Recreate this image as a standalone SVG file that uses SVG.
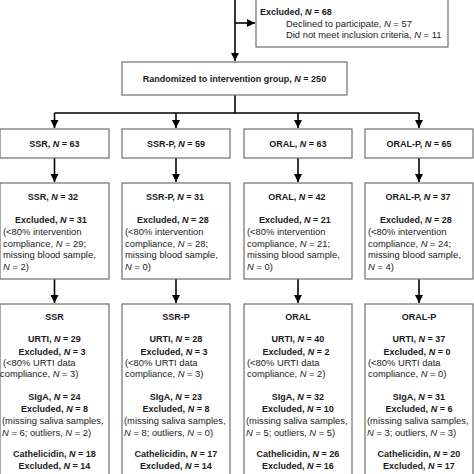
<svg xmlns="http://www.w3.org/2000/svg" width="474" height="474" viewBox="0 0 474 474">
<style>
text{font-family:"Liberation Sans",Arial,sans-serif;font-size:9.4px;fill:#1a1a1a}
.b{font-weight:bold;font-size:9px}
.c{text-anchor:middle}
.i{font-style:italic}
.box{fill:#fff;stroke:#6e6e6e;stroke-width:1.2}
.ln{fill:none;stroke:#000;stroke-width:1.6}
</style>
<defs>
<marker id="ah" viewBox="0 0 10 10" refX="10" refY="5" markerWidth="5.2" markerHeight="5.2" orient="auto" markerUnits="strokeWidth">
<path d="M0,0 L10,5 L0,10 z" fill="#000"/>
</marker>
</defs>
<rect width="474" height="474" fill="#fff"/>
<g id="connectors">
<path class="ln" d="M235,0 V61" marker-end="url(#ah)"/>
<path class="ln" d="M235,23 H255" marker-end="url(#ah)"/>
<path class="ln" d="M235,95 V113 M54.5,113 H419"/>
<path class="ln" d="M54.5,113 V128" marker-end="url(#ah)"/>
<path class="ln" d="M176,113 V128" marker-end="url(#ah)"/>
<path class="ln" d="M298,113 V128" marker-end="url(#ah)"/>
<path class="ln" d="M419,113 V128" marker-end="url(#ah)"/>
<path class="ln" d="M54.5,158 V182" marker-end="url(#ah)"/>
<path class="ln" d="M176,158 V182" marker-end="url(#ah)"/>
<path class="ln" d="M298,158 V182" marker-end="url(#ah)"/>
<path class="ln" d="M419,158 V182" marker-end="url(#ah)"/>
<path class="ln" d="M54.5,279 V303" marker-end="url(#ah)"/>
<path class="ln" d="M176,279 V303" marker-end="url(#ah)"/>
<path class="ln" d="M298,279 V303" marker-end="url(#ah)"/>
<path class="ln" d="M419,279 V303" marker-end="url(#ah)"/>
</g>
<g id="excluded">
<rect class="box" x="256" y="-5" width="192" height="52"/>
<text class="b" x="260" y="15">Excluded, <tspan class="i">N</tspan> = 68</text>
<text x="286" y="27">Declined to participate, <tspan class="i">N</tspan> = 57</text>
<text x="286" y="38">Did not meet inclusion criteria, <tspan class="i">N</tspan> = 11</text>
</g>
<g id="randomized">
<rect class="box" x="122" y="62" width="225" height="33"/>
<text class="b c" x="234.5" y="82">Randomized to intervention group, <tspan class="i">N</tspan> = 250</text>
</g>
<g id="ssr1"><rect class="box" x="0" y="129" width="109" height="29"/><text class="b c" x="54.5" y="147">SSR, <tspan class="i">N</tspan> = 63</text></g>
<g id="ssrp1"><rect class="box" x="122" y="129" width="108" height="29"/><text class="b c" x="176" y="147">SSR-P, <tspan class="i">N</tspan> = 59</text></g>
<g id="oral1"><rect class="box" x="244" y="129" width="108" height="29"/><text class="b c" x="298" y="147">ORAL, <tspan class="i">N</tspan> = 63</text></g>
<g id="oralp1"><rect class="box" x="365" y="129" width="108" height="29"/><text class="b c" x="419" y="147">ORAL-P, <tspan class="i">N</tspan> = 65</text></g>

<g id="ssr2"><rect class="box" x="0" y="183" width="109" height="96"/>
<text class="b c" x="53" y="200">SSR, <tspan class="i">N</tspan> = 32</text>
<text class="b c" x="51" y="223">Excluded, <tspan class="i">N</tspan> = 31</text>
<text x="3" y="235">(&lt;80% intervention</text>
<text x="3" y="247">compliance, <tspan class="i">N</tspan> = 29;</text>
<text x="3" y="258">missing blood sample,</text>
<text x="3" y="270"><tspan class="i">N</tspan> = 2)</text></g>
<g id="ssrp2"><rect class="box" x="122" y="183" width="108" height="96"/>
<text class="b c" x="175" y="200">SSR-P, <tspan class="i">N</tspan> = 31</text>
<text class="b c" x="173" y="223">Excluded, <tspan class="i">N</tspan> = 28</text>
<text x="125" y="235">(&lt;80% intervention</text>
<text x="125" y="247">compliance, <tspan class="i">N</tspan> = 28;</text>
<text x="125" y="258">missing blood sample,</text>
<text x="125" y="270"><tspan class="i">N</tspan> = 0)</text></g>
<g id="oral2"><rect class="box" x="244" y="183" width="108" height="96"/>
<text class="b c" x="297" y="200">ORAL, <tspan class="i">N</tspan> = 42</text>
<text class="b c" x="295" y="223">Excluded, <tspan class="i">N</tspan> = 21</text>
<text x="247" y="235">(&lt;80% intervention</text>
<text x="247" y="247">compliance, <tspan class="i">N</tspan> = 21;</text>
<text x="247" y="258">missing blood sample,</text>
<text x="247" y="270"><tspan class="i">N</tspan> = 0)</text></g>
<g id="oralp2"><rect class="box" x="365" y="183" width="108" height="96"/>
<text class="b c" x="418" y="200">ORAL-P, <tspan class="i">N</tspan> = 37</text>
<text class="b c" x="416" y="223">Excluded, <tspan class="i">N</tspan> = 28</text>
<text x="368" y="235">(&lt;80% intervention</text>
<text x="368" y="247">compliance, <tspan class="i">N</tspan> = 24;</text>
<text x="368" y="258">missing blood sample,</text>
<text x="368" y="270"><tspan class="i">N</tspan> = 4)</text></g>

<g id="ssr3"><rect class="box" x="0" y="304" width="109" height="180"/>
<text class="b c" x="54.5" y="320">SSR</text>
<text class="b c" x="54.5" y="342">URTI, <tspan class="i">N</tspan> = 29</text>
<text class="b c" x="52" y="355">Excluded, <tspan class="i">N</tspan> = 3</text>
<text x="3" y="366">(&lt;80% URTI data</text>
<text x="0" y="377">compliance, <tspan class="i">N</tspan> = 3)</text>
<text class="b c" x="54.5" y="400">SIgA, <tspan class="i">N</tspan> = 24</text>
<text class="b c" x="54.5" y="412">Excluded, <tspan class="i">N</tspan> = 8</text>
<text x="2" y="424">(missing saliva samples,</text>
<text x="2" y="436"><tspan class="i">N</tspan> = 6; outliers, <tspan class="i">N</tspan> = 2)</text>
<text class="b c" x="54.5" y="457">Cathelicidin, <tspan class="i">N</tspan> = 18</text>
<text class="b c" x="54.5" y="469">Excluded, <tspan class="i">N</tspan> = 14</text></g>
<g id="ssrp3"><rect class="box" x="122" y="304" width="108" height="180"/>
<text class="b c" x="176" y="320">SSR-P</text>
<text class="b c" x="176" y="342">URTI, <tspan class="i">N</tspan> = 28</text>
<text class="b c" x="174" y="355">Excluded, <tspan class="i">N</tspan> = 3</text>
<text x="125" y="366">(&lt;80% URTI data</text>
<text x="125" y="377">compliance, <tspan class="i">N</tspan> = 3)</text>
<text class="b c" x="176" y="400">SIgA, <tspan class="i">N</tspan> = 23</text>
<text class="b c" x="176" y="412">Excluded, <tspan class="i">N</tspan> = 8</text>
<text x="124" y="424">(missing saliva samples,</text>
<text x="124" y="436"><tspan class="i">N</tspan> = 8; outliers, <tspan class="i">N</tspan> = 0)</text>
<text class="b c" x="176" y="457">Cathelicidin, <tspan class="i">N</tspan> = 17</text>
<text class="b c" x="176" y="469">Excluded, <tspan class="i">N</tspan> = 14</text></g>
<g id="oral3"><rect class="box" x="244" y="304" width="108" height="180"/>
<text class="b c" x="298" y="320">ORAL</text>
<text class="b c" x="298" y="342">URTI, <tspan class="i">N</tspan> = 40</text>
<text class="b c" x="296" y="355">Excluded, <tspan class="i">N</tspan> = 2</text>
<text x="247" y="366">(&lt;80% URTI data</text>
<text x="247" y="377">compliance, <tspan class="i">N</tspan> = 2)</text>
<text class="b c" x="298" y="400">SIgA, <tspan class="i">N</tspan> = 32</text>
<text class="b c" x="298" y="412">Excluded, <tspan class="i">N</tspan> = 10</text>
<text x="246" y="424">(missing saliva samples,</text>
<text x="246" y="436"><tspan class="i">N</tspan> = 5; outliers, <tspan class="i">N</tspan> = 5)</text>
<text class="b c" x="298" y="457">Cathelicidin, <tspan class="i">N</tspan> = 26</text>
<text class="b c" x="298" y="469">Excluded, <tspan class="i">N</tspan> = 16</text></g>
<g id="oralp3"><rect class="box" x="365" y="304" width="108" height="180"/>
<text class="b c" x="419" y="320">ORAL-P</text>
<text class="b c" x="419" y="342">URTI, <tspan class="i">N</tspan> = 37</text>
<text class="b c" x="417" y="355">Excluded, <tspan class="i">N</tspan> = 0</text>
<text x="368" y="366">(&lt;80% URTI data</text>
<text x="368" y="377">compliance, <tspan class="i">N</tspan> = 0)</text>
<text class="b c" x="419" y="400">SIgA, <tspan class="i">N</tspan> = 31</text>
<text class="b c" x="419" y="412">Excluded, <tspan class="i">N</tspan> = 6</text>
<text x="367" y="424">(missing saliva samples,</text>
<text x="367" y="436"><tspan class="i">N</tspan> = 3; outliers, <tspan class="i">N</tspan> = 3)</text>
<text class="b c" x="419" y="457">Cathelicidin, <tspan class="i">N</tspan> = 20</text>
<text class="b c" x="419" y="469">Excluded, <tspan class="i">N</tspan> = 17</text></g>
</svg>
